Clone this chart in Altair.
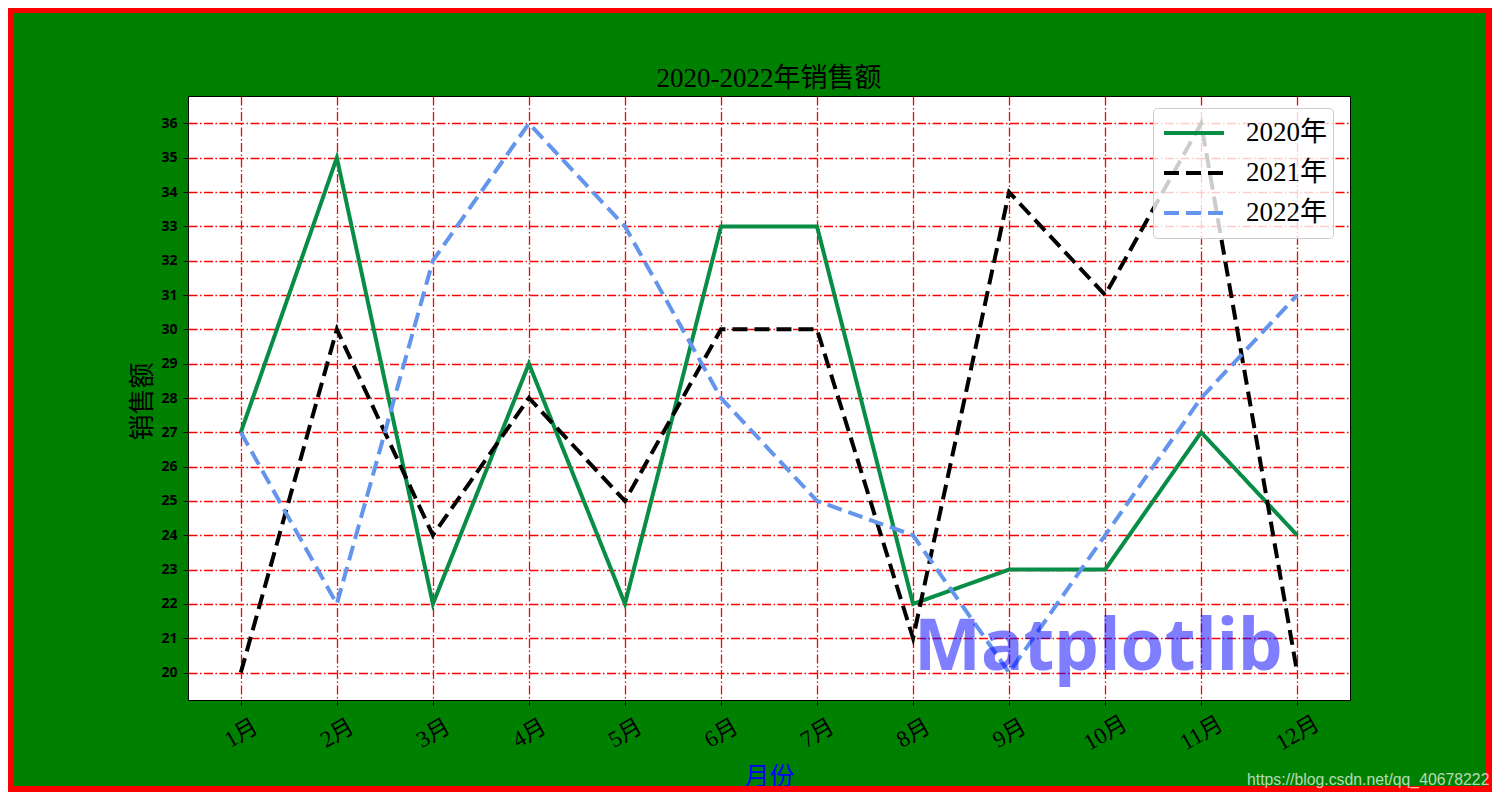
import altair as alt
import pandas as pd

months = list(range(1, 13))
sales_2020 = [27, 35, 22, 29, 22, 33, 33, 22, 23, 23, 27, 24]
sales_2021 = [20, 30, 24, 28, 25, 30, 30, 21, 34, 31, 36, 20]
sales_2022 = [27, 22, 32, 36, 33, 28, 25, 24, 20, 24, 28, 31]
series_names = ["2020年", "2021年", "2022年"]
series_colors = ["#078D46", "#000000", "#6495ED"]
y_ticks = list(range(20, 37))
chart_title = "2020-2022年销售额"
x_title = "月份"
y_title = "销售额"
watermark_text = "Matplotlib"
credit_text = "https://blog.csdn.net/qq_40678222"

rows = []
for name, vals in zip(series_names, [sales_2020, sales_2021, sales_2022]):
    for m, v in zip(months, vals):
        rows.append({"month": m, "sales": v, "series": name})
df = pd.DataFrame(rows)
dummy = pd.DataFrame({"d": [0]})

W, H = 1162, 604
SERIF = "Liberation Serif, Noto Sans CJK SC"
GRID_DASH = [9, 2.5, 1.5, 2.5]
LEGEND_LABEL = "datum.label + '\u00a0'"

lines = alt.Chart(df).mark_line(strokeWidth=4, clip=False).encode(
    x=alt.X("month:Q",
            scale=alt.Scale(domain=[0.45, 12.55], nice=False, zero=False),
            axis=alt.Axis(values=months, labelExpr="datum.value + '月'",
                          title=x_title, titleColor="#0000ff",
                          titleFont="Noto Sans CJK SC", titleFontSize=25,
                          titleFontWeight="normal", titleY=64, titleX=W / 2,
                          titleBaseline="top", titleAlign="center",
                          labelFont=SERIF, labelFontSize=23, labelColor="black",
                          labelAngle=330, labelAlign="center", labelBaseline="middle",
                          labelPadding=28, tickSize=5, tickColor="black",
                          domain=False, grid=True, gridColor="#ff0000",
                          gridDash=GRID_DASH, gridWidth=1.3)),
    y=alt.Y("sales:Q",
            scale=alt.Scale(domain=[19.2, 36.8], nice=False, zero=False),
            axis=alt.Axis(values=y_ticks, title=y_title,
                          titleFont="Noto Sans CJK SC", titleFontSize=26,
                          titleFontWeight="normal", titleColor="black",
                          titleAngle=270, titleX=-46, titleY=H / 2 + 3,
                          titleAlign="center", titleBaseline="middle",
                          labelFont="Noto Sans", labelFontSize=14,
                          labelFontWeight="bold", labelColor="black",
                          labelPadding=6, tickSize=5, tickColor="black",
                          domain=False, grid=True, gridColor="#ff0000",
                          gridDash=GRID_DASH, gridWidth=1.3)),
    color=alt.Color("series:N",
                    scale=alt.Scale(domain=series_names, range=series_colors),
                    legend=alt.Legend(title=None, labelExpr=LEGEND_LABEL)),
    strokeDash=alt.StrokeDash("series:N",
                              scale=alt.Scale(domain=series_names,
                                              range=[[1, 0], [15, 7], [15, 7]]),
                              legend=alt.Legend(title=None, labelExpr=LEGEND_LABEL)),
    order="month:Q",
)

title_mark = alt.Chart(dummy).mark_text(
    text=chart_title, font=SERIF, fontSize=27, color="black",
    align="center", baseline="alphabetic",
).encode(x=alt.value(W / 2), y=alt.value(-9))

watermark = alt.Chart(dummy).mark_text(
    text=watermark_text, font="Noto Sans", fontSize=71, fontWeight="bold",
    color="#0000ff", opacity=0.5, align="left", baseline="alphabetic",
).encode(x=alt.value(726), y=alt.value(574))

def frame(x1, x2, y1, y2):
    return alt.Chart(dummy).mark_rect(color="#ff0000").encode(
        x=alt.value(x1), x2=alt.value(x2), y=alt.value(y1), y2=alt.value(y2))

frames = [
    frame(-180, -174, -88, 696),
    frame(-180, 1304, -88, -83),
    frame(1298, 1304, -88, 696),
    frame(-180, 1304, 690, 696),
]

credit = alt.Chart(dummy).mark_text(
    text=credit_text, font="Liberation Sans",
    fontSize=15.8, color="white", opacity=0.7, align="left", baseline="alphabetic",
).encode(x=alt.value(1059), y=alt.value(689))

chart = alt.layer(lines, title_mark, watermark, *frames, credit).properties(
    width=W, height=H,
    autosize=alt.AutoSizeParams(type="none"),
    padding={"left": 180, "top": 88, "right": 142, "bottom": 92},
).configure(
    background="#008000",
).configure_view(
    fill="white", stroke="black", strokeWidth=1,
).configure_legend(
    orient="none", legendX=965, legendY=12,
    fillColor="rgba(255,255,255,0.8)", strokeColor="#cccccc",
    cornerRadius=4, padding=6, clipHeight=38, rowPadding=2,
    symbolType="stroke", symbolSize=3600, symbolStrokeWidth=4, symbolOffset=3,
    labelFont=SERIF, labelFontSize=27, labelColor="black",
    labelOffset=20,
)

chart.save("out.html", embed_options={"renderer": "svg", "actions": False})
